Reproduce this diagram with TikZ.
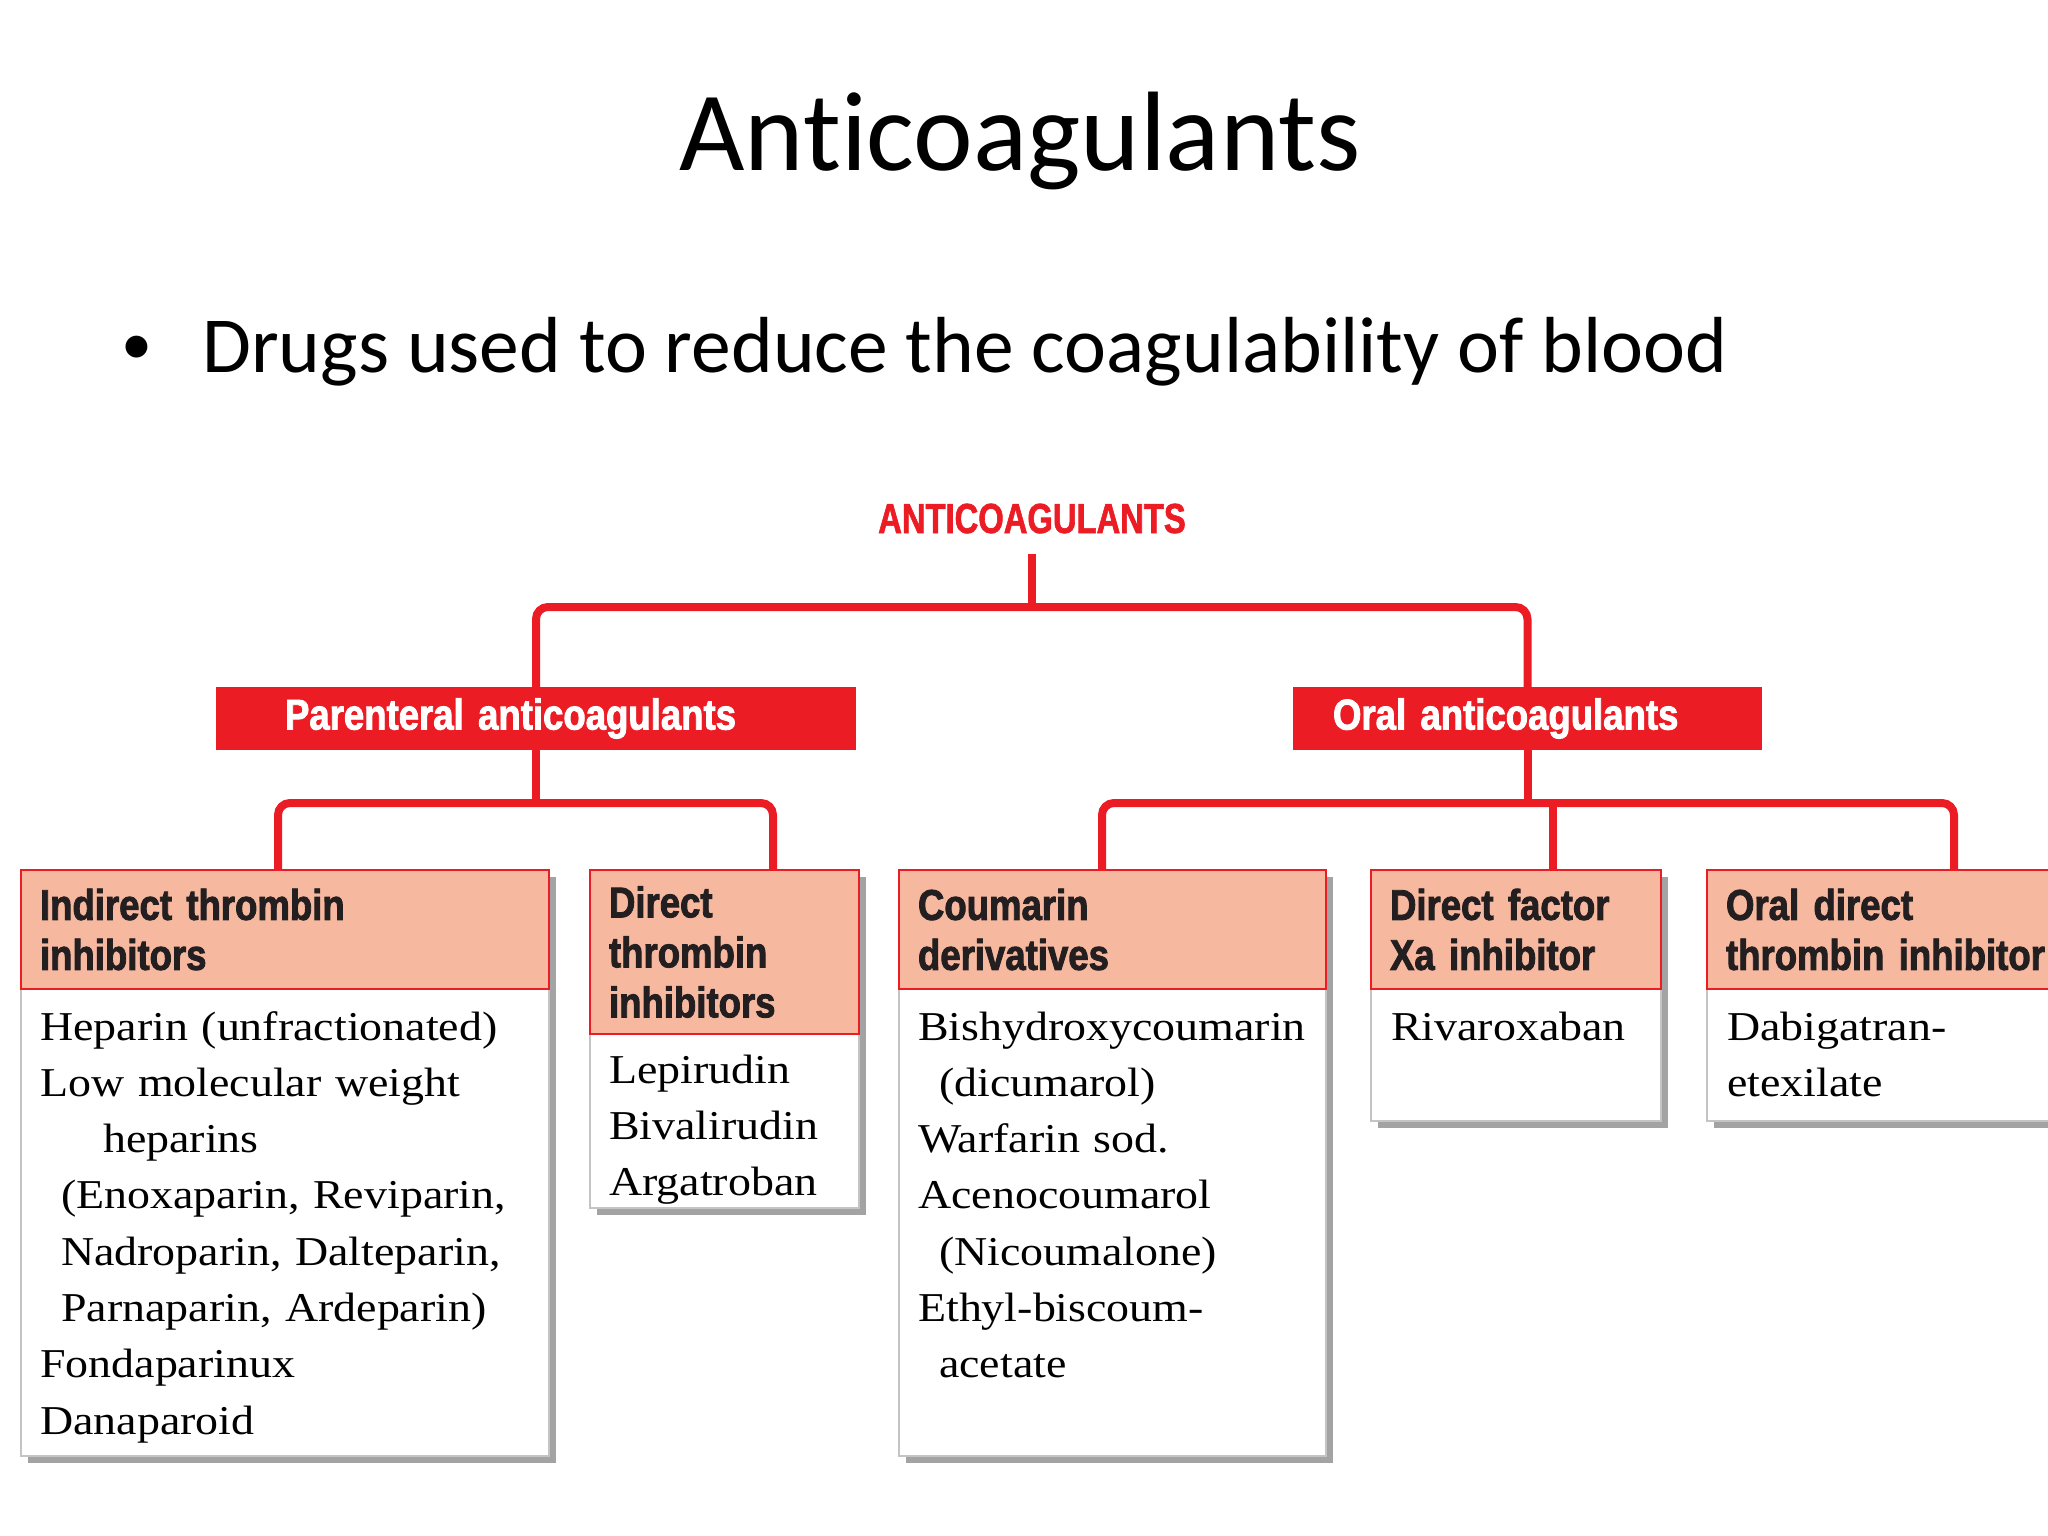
\documentclass[tikz,border=0pt]{standalone}
\usepackage{fontspec}
\usetikzlibrary{positioning, calc, shadows}
\setmainfont{Liberation Serif}
\newfontfamily\slidefont[Ligatures=NoCommon]{Carlito}
\newfontfamily\headfont[FakeStretch=0.85, FakeBold=2]{Liberation Sans}
\newfontfamily\rootfont[FakeStretch=0.78, FakeBold=1.5]{Liberation Sans}
\newfontfamily\listfont[FakeStretch=1.12]{Liberation Serif}
\definecolor{catred}{HTML}{EC1C24}
\definecolor{salmon}{HTML}{F7B8A0}
\definecolor{framegray}{HTML}{C4C4C4}
\definecolor{shadowgray}{HTML}{A3A3A3}
\definecolor{inkdark}{HTML}{231F20}

\begin{document}
\begin{tikzpicture}[
    x=1pt, y=-1pt,
    % Define styles for the slide and the classification chart
    title_lbl/.style={font=\slidefont\fontsize{113}{134}\selectfont, anchor=base, inner sep=0},
    bullet_lbl/.style={font=\slidefont\fontsize{62}{74}\selectfont, anchor=base, inner sep=0},
    sub_lbl/.style={font=\slidefont\fontsize{79.5}{95}\selectfont, anchor=base west, inner sep=0},
    root_lbl/.style={font=\rootfont\bfseries\fontsize{42}{50}\selectfont, text=catred, anchor=base, inner sep=0},
    cat_box/.style={fill=catred, text=white, font=\headfont\bfseries\fontsize{43}{50}\selectfont,
        anchor=north west, align=left, inner ysep=0, minimum height=63, outer sep=0},
    frame_box/.style={draw=framegray, line width=2, fill=white, anchor=north west, inner sep=0, outer sep=0,
        drop shadow={shadow xshift=7pt, shadow yshift=-7pt, fill=shadowgray, opacity=1}},
    hdr_box/.style={draw=catred, line width=2.5, fill=salmon, anchor=north west, align=left, text=inkdark,
        inner xsep=19, inner ysep=0, outer sep=0, font=\headfont\bfseries\fontsize{43}{50}\selectfont},
    list_lbl/.style={font=\listfont\fontsize{41}{56.3}\selectfont, anchor=base west, align=left,
        text width=500, inner sep=0},
    link/.style={draw=catred, line width=8, rounded corners=12}
]
    \clip (0,0) rectangle (2048,1536);

    % --- Slide title and bullet ---
    \node[title_lbl] (ttl) at (1020,170) {Anticoagulants};
    \node[bullet_lbl] (dot) at (137,364) {•};
    \node[sub_lbl] (sub) at (202,372) {Drugs used to reduce the coagulability of blood};

    % --- Top of the chart ---
    \node[root_lbl] (root) at (1032,533) {ANTICOAGULANTS};
    \node[cat_box, inner xsep=69, text width=502] (par) at (216,687) {Parenteral anticoagulants};
    \node[cat_box, inner xsep=40, text width=389] (oral) at (1293,687) {Oral anticoagulants};

    % --- Class boxes (frame, header, list) ---
    \node[frame_box, minimum width=528, minimum height=586] (ind) at (21,870) {};
    \node[hdr_box, text width=490, minimum height=119] (indH) at (ind.north west) {Indirect thrombin\\inhibitors};
    \node[list_lbl] (indL) at (40,1040) {Heparin (unfractionated)\\Low molecular weight\\\hspace*{63pt}heparins\\
        \hspace*{21pt}(Enoxaparin, Reviparin,\\\hspace*{21pt}Nadroparin, Dalteparin,\\
        \hspace*{21pt}Parnaparin, Ardeparin)\\Fondaparinux\\Danaparoid};

    \node[frame_box, minimum width=269, minimum height=338] (dti) at (590,870) {};
    \node[hdr_box, text width=231, minimum height=164] (dtiH) at (dti.north west) {Direct\\thrombin\\inhibitors};
    \node[list_lbl] (dtiL) at (609,1083) {Lepirudin\\Bivalirudin\\Argatroban};

    \node[frame_box, minimum width=427, minimum height=586] (cou) at (899,870) {};
    \node[hdr_box, text width=389, minimum height=119] (couH) at (cou.north west) {Coumarin\\derivatives};
    \node[list_lbl] (couL) at (918,1040) {Bishydroxycoumarin\\\hspace*{21pt}(dicumarol)\\Warfarin sod.\\
        Acenocoumarol\\\hspace*{21pt}(Nicoumalone)\\Ethyl-biscoum-\\\hspace*{21pt}acetate};

    \node[frame_box, minimum width=290, minimum height=251] (xa) at (1371,870) {};
    \node[hdr_box, text width=252, minimum height=119] (xaH) at (xa.north west) {Direct factor\\Xa inhibitor};
    \node[list_lbl] (xaL) at (1391,1040) {Rivaroxaban};

    \node[frame_box, minimum width=363, minimum height=251] (odti) at (1707,870) {};
    \node[hdr_box, text width=325, minimum height=119] (odtiH) at (odti.north west) {Oral direct\\thrombin inhibitor};
    \node[list_lbl] (odtiL) at (1727,1040) {Dabigatran-\\etexilate};

    % --- Connectors ---
    \coordinate (lvl1) at (0,607);
    \coordinate (lvl2) at (0,803);
    \draw[link, shorten <=20] (root.south) -- (root.south |- lvl1);
    \draw[link] (par.north) |- (root.south |- lvl1) -| (oral.north);

    \draw[link] (par.south) -- (par.south |- lvl2);
    \draw[link] ([xshift=-7]ind.north) |- (par.south |- lvl2) -| ([xshift=48.5]dti.north);

    \draw[link] (oral.south) -- (oral.south |- lvl2);
    \draw[link] ([xshift=-10.5]cou.north) |- (oral.south |- lvl2) -| ([xshift=65.5]odti.north);
    \draw[link] ([xshift=37]xa.north) -- ([xshift=37]xa.north |- lvl2);

\end{tikzpicture}
\end{document}
